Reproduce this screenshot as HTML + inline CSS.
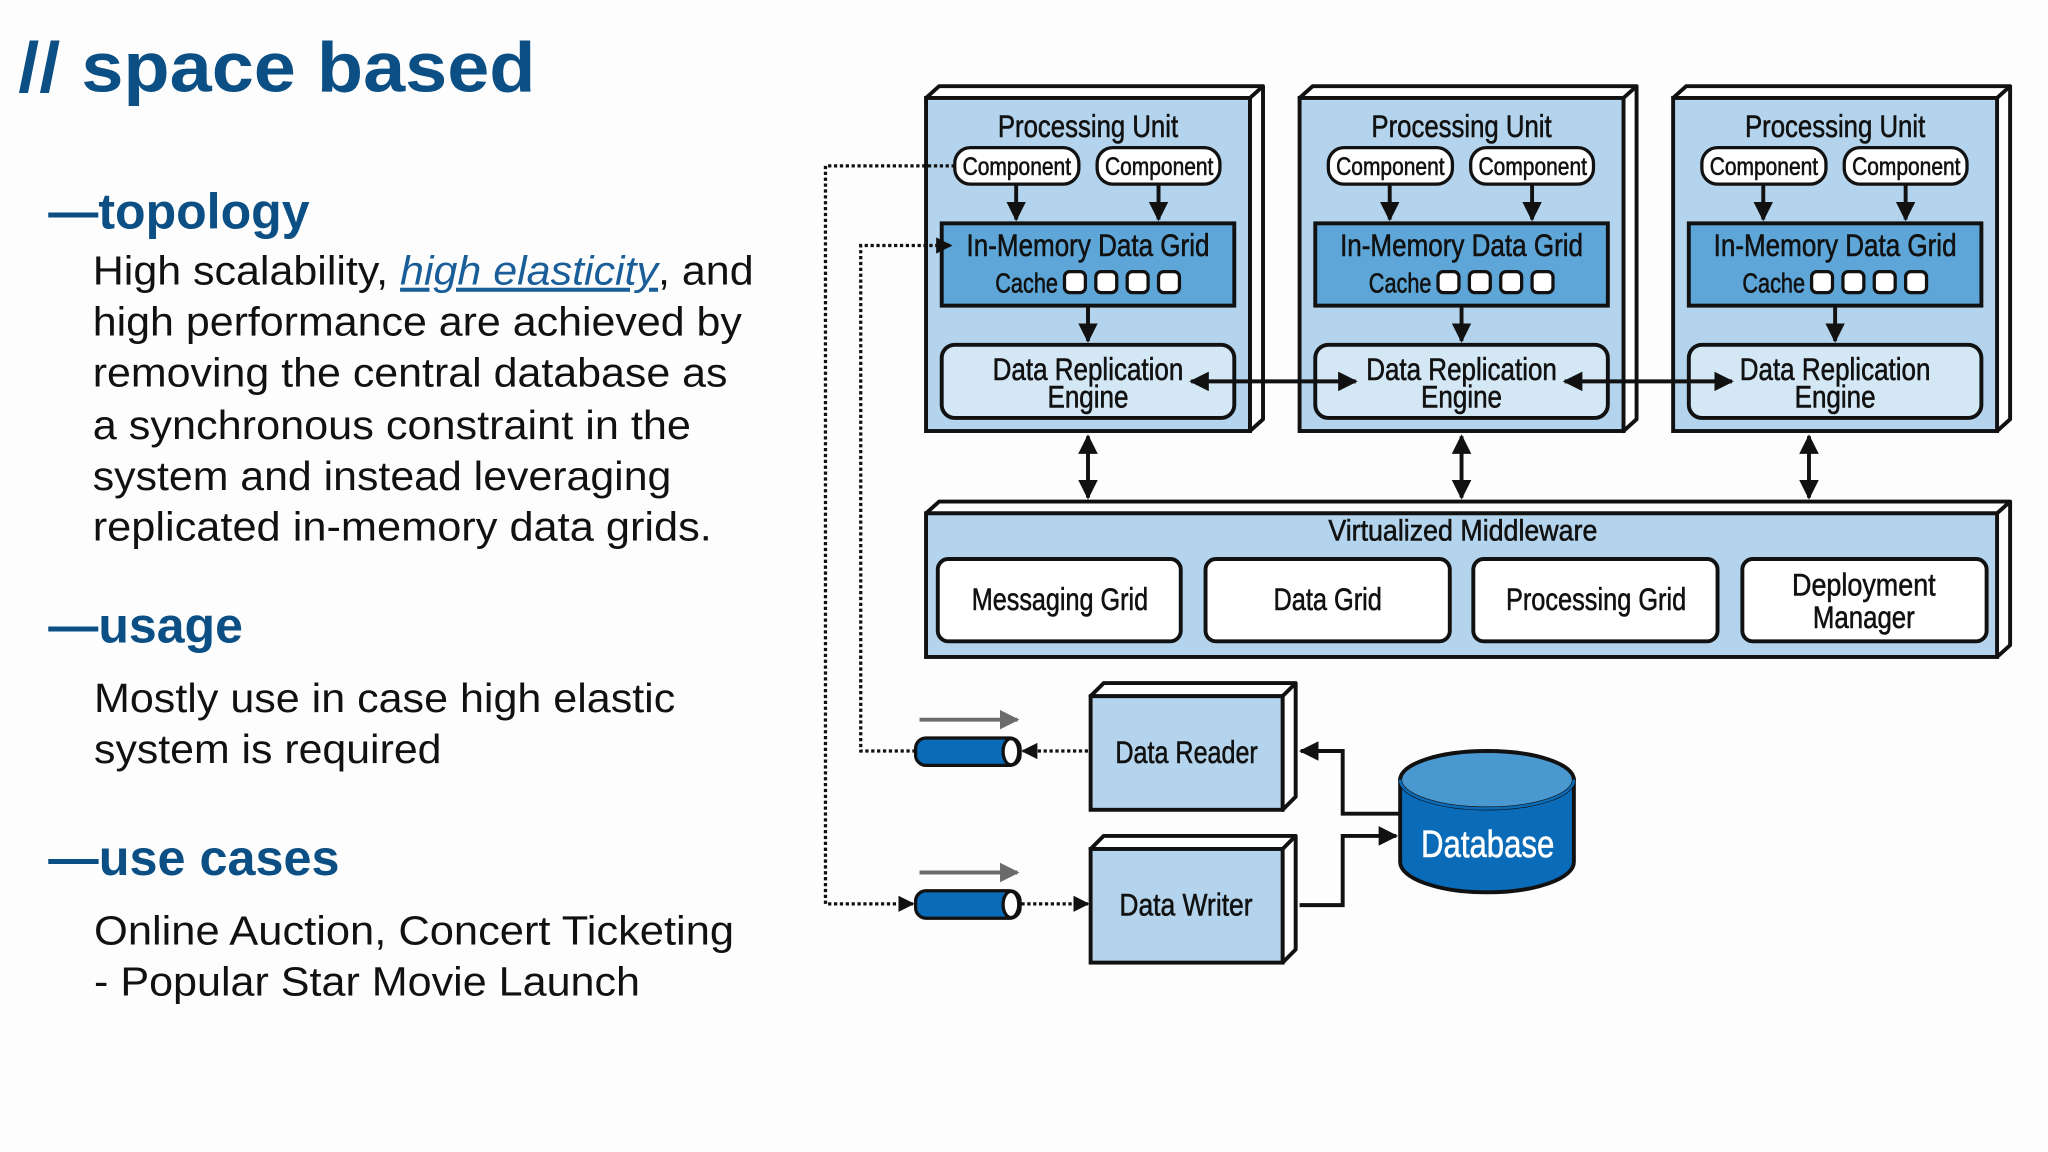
<!DOCTYPE html>
<html><head><meta charset="utf-8"><style>
html,body{margin:0;padding:0;background:#fdfdfd;}
svg{display:block;}
.n{font-family:"Liberation Sans Narrow","Liberation Sans",sans-serif;fill:#111;stroke:#111;stroke-width:0.45;}
.l{font-family:"Liberation Sans",sans-serif;}
</style></head><body>
<svg width="2048" height="1152" viewBox="0 0 1568 882" xmlns="http://www.w3.org/2000/svg">
<defs>
<marker id="a" viewBox="0 0 10 10" refX="9" refY="5" markerWidth="5" markerHeight="5" orient="auto-start-reverse" markerUnits="strokeWidth"><path d="M0,0L10,5L0,10z" fill="#111"/></marker>
<marker id="g" viewBox="0 0 10 10" refX="9" refY="5" markerWidth="5" markerHeight="5" orient="auto" markerUnits="strokeWidth"><path d="M0,0L10,5L0,10z" fill="#6b6b6b"/></marker>
</defs>
<rect width="1568" height="882" fill="#fdfdfd"/>

<text class="l" x="14" y="70" font-size="54" font-weight="bold" fill="#0b4f84" textLength="396" lengthAdjust="spacingAndGlyphs">// space based</text>
<text class="l" x="37" y="175" font-size="38" font-weight="bold" fill="#0b4f84" textLength="200" lengthAdjust="spacingAndGlyphs">—topology</text>
<g class="l" font-size="31" fill="#111">
<text x="71" y="218" textLength="506" lengthAdjust="spacingAndGlyphs">High scalability, <tspan fill="#1a5e99" font-style="italic" text-decoration="underline">high elasticity</tspan>, and</text>
<text x="71" y="257" textLength="497" lengthAdjust="spacingAndGlyphs">high performance are achieved by</text>
<text x="71" y="296" textLength="486" lengthAdjust="spacingAndGlyphs">removing the central database as</text>
<text x="71" y="336" textLength="458" lengthAdjust="spacingAndGlyphs">a synchronous constraint in the</text>
<text x="71" y="375" textLength="443" lengthAdjust="spacingAndGlyphs">system and instead leveraging</text>
<text x="71" y="414" textLength="474" lengthAdjust="spacingAndGlyphs">replicated in-memory data grids.</text>
</g>
<text class="l" x="37" y="492" font-size="38" font-weight="bold" fill="#0b4f84" textLength="149" lengthAdjust="spacingAndGlyphs">—usage</text>
<g class="l" font-size="31" fill="#111">
<text x="72" y="545" textLength="445" lengthAdjust="spacingAndGlyphs">Mostly use in case high elastic</text>
<text x="72" y="584" textLength="266" lengthAdjust="spacingAndGlyphs">system is required</text>
</g>
<text class="l" x="37" y="670" font-size="38" font-weight="bold" fill="#0b4f84" textLength="223" lengthAdjust="spacingAndGlyphs">—use cases</text>
<g class="l" font-size="31" fill="#111">
<text x="72" y="723" textLength="490" lengthAdjust="spacingAndGlyphs">Online Auction, Concert Ticketing</text>
<text x="72" y="762" textLength="418" lengthAdjust="spacingAndGlyphs">- Popular Star Movie Launch</text>
</g>

<g id="pu">
<path d="M709,75 L719,66 L967,66 L967,321 L957,330 L957,75 Z" fill="#fff" stroke="#111" stroke-width="3" stroke-linejoin="round"/>
<line x1="957" y1="75" x2="967" y2="66" stroke="#111" stroke-width="3"/>
<rect x="709" y="75" width="248" height="255" fill="#b3d4ec" stroke="#111" stroke-width="3"/>
<text class="n" x="764" y="105" font-size="24" textLength="138" lengthAdjust="spacingAndGlyphs">Processing Unit</text>
<rect x="731" y="113" width="95" height="28" rx="12" fill="#fff" stroke="#111" stroke-width="2.5"/>
<text class="n" x="737" y="134" font-size="19" textLength="83" lengthAdjust="spacingAndGlyphs">Component</text>
<rect x="840" y="113" width="94" height="28" rx="12" fill="#fff" stroke="#111" stroke-width="2.5"/>
<text class="n" x="846" y="134" font-size="19" textLength="83" lengthAdjust="spacingAndGlyphs">Component</text>
<line x1="778" y1="142" x2="778" y2="168" stroke="#111" stroke-width="3" marker-end="url(#a)"/>
<line x1="887" y1="142" x2="887" y2="168" stroke="#111" stroke-width="3" marker-end="url(#a)"/>
<rect x="721" y="171" width="224" height="63" fill="#5ea6d8" stroke="#111" stroke-width="3"/>
<text class="n" x="740" y="196" font-size="24" textLength="186" lengthAdjust="spacingAndGlyphs">In-Memory Data Grid</text>
<text class="n" x="762" y="224" font-size="21" textLength="48" lengthAdjust="spacingAndGlyphs">Cache</text>
<g fill="#fff" stroke="#111" stroke-width="2.5">
<rect x="815" y="208" width="16" height="16" rx="4"/><rect x="839" y="208" width="16" height="16" rx="4"/><rect x="863" y="208" width="16" height="16" rx="4"/><rect x="887" y="208" width="16" height="16" rx="4"/>
</g>
<line x1="833" y1="235" x2="833" y2="261" stroke="#111" stroke-width="3" marker-end="url(#a)"/>
<rect x="721" y="264" width="224" height="56" rx="10" fill="#d3e7f5" stroke="#111" stroke-width="3"/>
<text class="n" x="760" y="291" font-size="24" textLength="146" lengthAdjust="spacingAndGlyphs">Data Replication</text>
<text class="n" x="802" y="312" font-size="24" textLength="62" lengthAdjust="spacingAndGlyphs">Engine</text>
</g>
<use href="#pu" transform="translate(286,0)"/>
<use href="#pu" transform="translate(572,0)"/>

<line x1="912" y1="292" x2="1038" y2="292" stroke="#111" stroke-width="3" marker-start="url(#a)" marker-end="url(#a)"/>
<line x1="1198" y1="292" x2="1326" y2="292" stroke="#111" stroke-width="3" marker-start="url(#a)" marker-end="url(#a)"/>
<line x1="833" y1="334" x2="833" y2="381" stroke="#111" stroke-width="3" marker-start="url(#a)" marker-end="url(#a)"/>
<line x1="1119" y1="334" x2="1119" y2="381" stroke="#111" stroke-width="3" marker-start="url(#a)" marker-end="url(#a)"/>
<line x1="1385" y1="334" x2="1385" y2="381" stroke="#111" stroke-width="3" marker-start="url(#a)" marker-end="url(#a)"/>

<path d="M709,393 L719,384 L1539,384 L1539,494 L1529,503 L1529,393 Z" fill="#fff" stroke="#111" stroke-width="3" stroke-linejoin="round"/>
<line x1="1529" y1="393" x2="1539" y2="384" stroke="#111" stroke-width="3"/>
<rect x="709" y="393" width="820" height="110" fill="#b3d4ec" stroke="#111" stroke-width="3"/>
<text class="n" x="1017" y="414" font-size="23" textLength="206" lengthAdjust="spacingAndGlyphs">Virtualized Middleware</text>
<g fill="#fff" stroke="#111" stroke-width="3">
<rect x="718" y="428" width="186" height="63" rx="8"/><rect x="923" y="428" width="187" height="63" rx="8"/><rect x="1128" y="428" width="187" height="63" rx="8"/><rect x="1334" y="428" width="187" height="63" rx="8"/>
</g>
<g class="n" font-size="24">
<text x="744" y="467" textLength="135" lengthAdjust="spacingAndGlyphs">Messaging Grid</text>
<text x="975" y="467" textLength="83" lengthAdjust="spacingAndGlyphs">Data Grid</text>
<text x="1153" y="467" textLength="138" lengthAdjust="spacingAndGlyphs">Processing Grid</text>
<text x="1372" y="456" textLength="110" lengthAdjust="spacingAndGlyphs">Deployment</text>
<text x="1388" y="481" textLength="78" lengthAdjust="spacingAndGlyphs">Manager</text>
</g>

<g id="rw">
<path d="M835,533 L845,523 L992,523 L992,610 L982,620 L982,533 Z" fill="#fff" stroke="#111" stroke-width="3" stroke-linejoin="round"/>
<line x1="982" y1="533" x2="992" y2="523" stroke="#111" stroke-width="3"/>
<rect x="835" y="533" width="147" height="87" fill="#b3d4ec" stroke="#111" stroke-width="3"/>
</g>
<use href="#rw" transform="translate(0,117)"/>
<text class="n" x="854" y="584" font-size="24" textLength="109" lengthAdjust="spacingAndGlyphs">Data Reader</text>
<text class="n" x="857" y="701" font-size="24" textLength="102" lengthAdjust="spacingAndGlyphs">Data Writer</text>

<path d="M1072,597 L1072,660 A66,23 0 0 0 1205,660 L1205,597 Z" fill="#0a6bb8" stroke="#111" stroke-width="3"/>
<ellipse cx="1138.5" cy="597" rx="66.5" ry="22" fill="#4a98d0" stroke="#111" stroke-width="3"/>
<path d="M1072,597 A66.5,22 0 0 0 1205,597" fill="none" stroke="#0a6bb8" stroke-width="2"/>
<text class="n" x="1088" y="656" font-size="29" style="fill:#fff;stroke:#fff" textLength="102" lengthAdjust="spacingAndGlyphs">Database</text>

<polyline points="1072,623 1028,623 1028,575 996,575" fill="none" stroke="#111" stroke-width="3" marker-end="url(#a)"/>
<polyline points="995,693 1028,693 1028,640 1069,640" fill="none" stroke="#111" stroke-width="3" marker-end="url(#a)"/>

<g stroke="#111" stroke-width="2.5">
<rect x="701" y="565" width="80" height="21" rx="8" fill="#0a6bb8"/>
<ellipse cx="774" cy="575.5" rx="6" ry="10" fill="#fff"/>
<rect x="701" y="682" width="80" height="21" rx="8" fill="#0a6bb8"/>
<ellipse cx="774" cy="692.5" rx="6" ry="10" fill="#fff"/>
</g>
<line x1="704" y1="551" x2="779" y2="551" stroke="#6b6b6b" stroke-width="3" marker-end="url(#g)"/>
<line x1="704" y1="668" x2="779" y2="668" stroke="#6b6b6b" stroke-width="3" marker-end="url(#g)"/>

<g fill="none" stroke="#111" stroke-width="2.5" stroke-dasharray="2.5 2">
<polyline points="731,127 632,127 632,692 699,692" marker-end="url(#a)"/>
<polyline points="701,575 659,575 659,188 728,188" marker-end="url(#a)"/>
<polyline points="833,575 783,575" marker-end="url(#a)"/>
<polyline points="782,692 833,692" marker-end="url(#a)"/>
</g>
</svg>
</body></html>
